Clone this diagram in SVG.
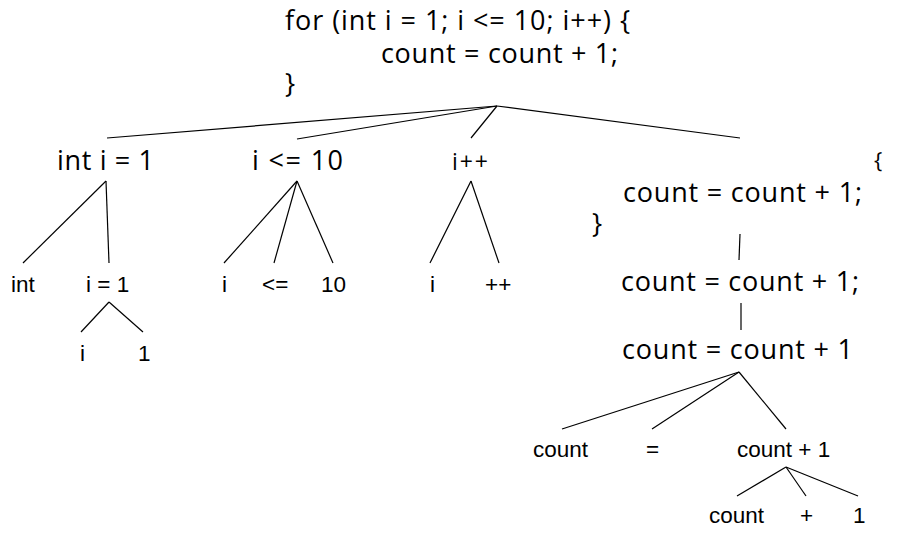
<svg xmlns="http://www.w3.org/2000/svg" width="901" height="535" viewBox="0 0 901 535">
<style>
.big{font-family:"Open Sans","Noto Sans",sans-serif;font-size:27px;fill:#000}
.sm{font-family:"Liberation Sans",Arial,sans-serif;font-size:22.5px;fill:#000}
.e{stroke:#000;stroke-width:1.2;fill:none}
</style>
<rect width="901" height="535" fill="#fff"/>
<g id="connectors">
<line class="e" x1="497" y1="106" x2="107" y2="138"/>
<line class="e" x1="497" y1="106" x2="297" y2="139"/>
<line class="e" x1="497" y1="106" x2="471" y2="138"/>
<line class="e" x1="497" y1="106" x2="740" y2="138"/>
<line class="e" x1="106" y1="181" x2="23" y2="263"/>
<line class="e" x1="106" y1="181" x2="109" y2="263"/>
<line class="e" x1="109" y1="302" x2="81" y2="332"/>
<line class="e" x1="109" y1="302" x2="143" y2="332"/>
<line class="e" x1="297" y1="181" x2="224" y2="263"/>
<line class="e" x1="297" y1="181" x2="274" y2="263"/>
<line class="e" x1="297" y1="181" x2="333" y2="263"/>
<line class="e" x1="471" y1="181" x2="430" y2="263"/>
<line class="e" x1="471" y1="181" x2="499" y2="263"/>
<line class="e" x1="740" y1="234" x2="739" y2="260"/>
<line class="e" x1="741" y1="303" x2="741" y2="330"/>
<line class="e" x1="739" y1="372" x2="562" y2="429"/>
<line class="e" x1="739" y1="372" x2="652" y2="429"/>
<line class="e" x1="739" y1="372" x2="786" y2="429"/>
<line class="e" x1="786" y1="467" x2="737" y2="496"/>
<line class="e" x1="786" y1="467" x2="806" y2="496"/>
<line class="e" x1="786" y1="467" x2="858" y2="496"/>
</g>
<g id="root">
<text class="big" x="285" y="30" textLength="345">for (int i = 1; i &lt;= 10; i++) {</text>
<text class="big" x="381" y="63" textLength="237">count = count + 1;</text>
<text class="big" x="285" y="93">}</text>
</g>
<g id="init"><text class="big" x="57" y="170" textLength="97">int i = 1</text></g>
<g id="cond"><text class="big" x="252" y="170" textLength="91">i &lt;= 10</text></g>
<g id="incr"><text class="big" x="452" y="170" style="font-size:23px" textLength="36">i++</text></g>
<g id="body">
<text class="big" x="874" y="168" style="font-size:22px">{</text>
<text class="big" x="623" y="202" textLength="239">count = count + 1;</text>
<text class="big" x="592" y="233">}</text>
</g>
<g id="stmt"><text class="big" x="621" y="291" textLength="238">count = count + 1;</text></g>
<g id="expr"><text class="big" x="622" y="359" textLength="231">count = count + 1</text></g>
<g id="n-int"><text class="sm" x="11" y="292">int</text></g>
<g id="n-assign"><text class="sm" x="86" y="292">i = 1</text></g>
<g id="n-i1"><text class="sm" x="80" y="361">i</text></g>
<g id="n-one1"><text class="sm" x="138" y="361">1</text></g>
<g id="n-i2"><text class="sm" x="222" y="292">i</text></g>
<g id="n-le"><text class="sm" x="262" y="292">&lt;=</text></g>
<g id="n-10"><text class="sm" x="321" y="292">10</text></g>
<g id="n-i3"><text class="sm" x="430" y="292">i</text></g>
<g id="n-pp"><text class="sm" x="485" y="292">++</text></g>
<g id="n-count1"><text class="sm" x="533" y="457">count</text></g>
<g id="n-eq"><text class="sm" x="646" y="457">=</text></g>
<g id="n-add"><text class="sm" x="737" y="457">count + 1</text></g>
<g id="n-count2"><text class="sm" x="709" y="523">count</text></g>
<g id="n-plus"><text class="sm" x="800" y="523">+</text></g>
<g id="n-one2"><text class="sm" x="853" y="523">1</text></g>
</svg>
